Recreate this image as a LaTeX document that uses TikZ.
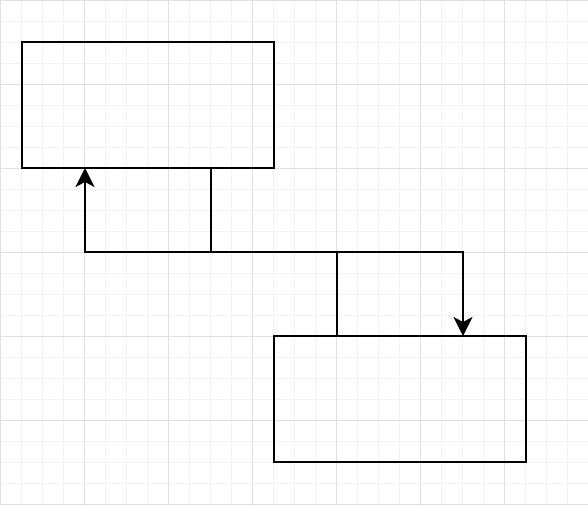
\documentclass[tikz,border=0pt]{standalone}
\usepackage{tikz}
\usetikzlibrary{arrows.meta,calc}
\definecolor{gridminor}{HTML}{F3F3F3}
\definecolor{gridmajor}{HTML}{E0E0E0}

\begin{document}
\begin{tikzpicture}[x=1pt,y=-1pt, bnode/.style={draw,line width=2pt,rectangle,minimum width=252pt,minimum height=126pt,inner sep=0pt,outer sep=0pt}, >={Stealth[length=19pt,width=19pt,inset=5pt]}]
    \useasboundingbox (0,0) rectangle (588,506);
    \draw[gridminor, line width=1pt, step=21pt] (0,0) grid (588,506);
    \draw[gridmajor, line width=1pt, step=84pt] (0,0) grid (588,506);

    \node[bnode] (1) at (148,105) {};
    \node[bnode] (2) at (400,399) {};

    \draw[->, line width=2pt] ($(1.south west)!0.75!(1.south east)$) -- ++(0,84) -| ($(2.north west)!0.75!(2.north east)$) ;
    \draw[->, line width=2pt] ($(2.north west)!0.25!(2.north east)$) -- ++(0,-84) -| ($(1.south west)!0.25!(1.south east)$) ;
\end{tikzpicture}
\end{document}
